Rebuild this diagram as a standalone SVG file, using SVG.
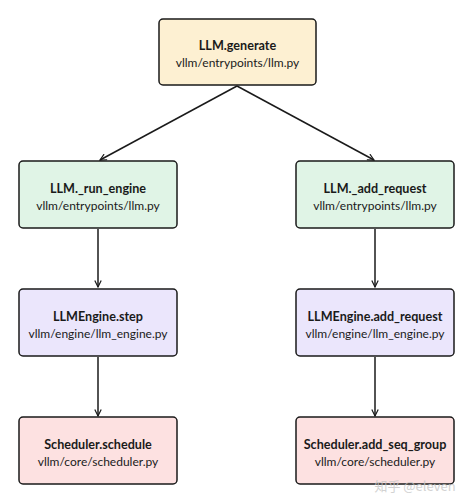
<svg xmlns="http://www.w3.org/2000/svg" width="474" height="504" viewBox="0 0 474 504">
<defs>
<style>
.box{stroke:#1a1a1a;stroke-width:1.5}
.t{font-family:Lato,"Noto Sans",sans-serif;font-size:12.6px;font-weight:bold;fill:#1a1a1a;text-anchor:middle}
.s{font-family:Lato,"Noto Sans",sans-serif;font-size:12px;fill:#1a1a1a;text-anchor:middle}
.y{fill:#fdf0d2}.g{fill:#e0f4e6}.p{fill:#ebe6fc}.r{fill:#fde1e1}
.c{stroke:#1a1a1a;stroke-width:1.5;fill:none;marker-end:url(#ah)}
</style>
<marker id="ah" viewBox="0 0 10 10" refX="9" refY="5" markerWidth="8" markerHeight="8" orient="auto-start-reverse" markerUnits="userSpaceOnUse">
<path d="M1,1 L9,5 L1,9" fill="none" stroke="#1a1a1a" stroke-width="1.5"/>
</marker>
</defs>
<rect width="474" height="504" fill="#ffffff"/>
<g id="connectors">
<path class="c" d="M237,86 L100,160"/>
<path class="c" d="M237,86 L374,160"/>
<path class="c" d="M98,229 L98,287"/>
<path class="c" d="M375,229 L375,287"/>
<path class="c" d="M98,357 L98,416"/>
<path class="c" d="M375,357 L375,416"/>
</g>
<g id="n_generate">
<rect class="box y" x="159" y="19" width="157" height="66" rx="4"/>
<text class="t" x="237.5" y="50">LLM.generate</text>
<text class="s" x="237.5" y="67">vllm/entrypoints/llm.py</text>
</g>
<g id="n_run_engine">
<rect class="box g" x="19" y="161" width="158" height="67" rx="4"/>
<text class="t" x="98" y="193">LLM._run_engine</text>
<text class="s" x="98" y="210">vllm/entrypoints/llm.py</text>
</g>
<g id="n_add_request">
<rect class="box g" x="296" y="161" width="158" height="67" rx="4"/>
<text class="t" x="375" y="193">LLM._add_request</text>
<text class="s" x="375" y="210">vllm/entrypoints/llm.py</text>
</g>
<g id="n_step">
<rect class="box p" x="19" y="289" width="158" height="67" rx="4"/>
<text class="t" x="98" y="321">LLMEngine.step</text>
<text class="s" x="98" y="338">vllm/engine/llm_engine.py</text>
</g>
<g id="n_engine_add_request">
<rect class="box p" x="296" y="289" width="158" height="67" rx="4"/>
<text class="t" x="375" y="321">LLMEngine.add_request</text>
<text class="s" x="375" y="338">vllm/engine/llm_engine.py</text>
</g>
<g id="n_schedule">
<rect class="box r" x="19" y="417" width="158" height="67" rx="4"/>
<text class="t" x="98" y="449">Scheduler.schedule</text>
<text class="s" x="98" y="466">vllm/core/scheduler.py</text>
</g>
<g id="n_add_seq_group">
<rect class="box r" x="296" y="417" width="158" height="67" rx="4"/>
<text class="t" x="375" y="449">Scheduler.add_seq_group</text>
<text class="s" x="375" y="466">vllm/core/scheduler.py</text>
</g>
<text x="415" y="491" font-family="'Noto Sans CJK SC',sans-serif" font-size="13" fill="#c8c8c8" text-anchor="middle" opacity="0.8">知乎 @eleven</text>
</svg>
